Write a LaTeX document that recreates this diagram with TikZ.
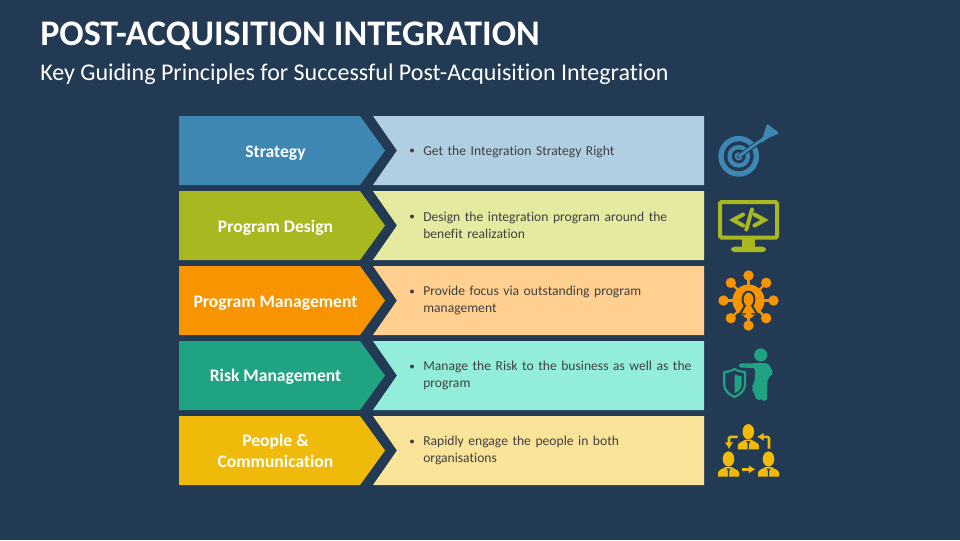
\documentclass[tikz,border=0pt]{standalone}
\usepackage{fontspec}
\usetikzlibrary{arrows.meta}
\setmainfont[Ligatures={NoCommon}]{Carlito}
\definecolor{bg}{HTML}{233A54}
\definecolor{aA}{HTML}{3F87B3}\definecolor{bA}{HTML}{B0CFE2}
\definecolor{aB}{HTML}{A9B720}\definecolor{bB}{HTML}{E5EAA0}
\definecolor{aC}{HTML}{F79400}\definecolor{bC}{HTML}{FFD08F}
\definecolor{aD}{HTML}{1FA383}\definecolor{bD}{HTML}{92EEDA}
\definecolor{aE}{HTML}{F0BA0A}\definecolor{bE}{HTML}{FAE49A}
\definecolor{txt}{HTML}{404040}
\tikzset{
 x=0.75pt,y=-0.75pt,
 lab/.style={text=white,font=\fontsize{13.2pt}{15.8pt}\selectfont\bfseries,align=center,anchor=center},
 desc/.style={text=txt,font=\fontsize{10.2pt}{12.9pt}\selectfont,align=left,anchor=west,text width=215pt,inner sep=0pt},
 dot/.style={circle,fill=txt,inner sep=0pt,minimum size=3pt},
 iconarrow/.style={aE,line width=1.9pt,rounded corners=1pt,-{Latex[length=5pt,width=6.5pt]}},
}
\newcommand{\band}[3]{%
 \fill[#2] (179,#1) -- (360,#1) -- (385,#1+34.5) -- (360,#1+69) -- (179,#1+69) -- cycle;
 \fill[#3] (373,#1) -- (704,#1) -- (704,#1+69) -- (373,#1+69) -- (397,#1+34.5) -- cycle;
}
\newcommand{\person}[2]{%
 \fill[aE] (#1,#2) ellipse (5.8 and 7.6);
 \fill[aE] (#1-10.5,#2+17.7) -- (#1-10.5,#2+13.5) .. controls (#1-10,#2+11) and (#1-6,#2+10) .. (#1-3,#2+8) -- (#1+3,#2+8) .. controls (#1+6,#2+10) and (#1+10,#2+11) .. (#1+10.5,#2+13.5) -- (#1+10.5,#2+17.7) -- cycle;
 \fill[bg] (#1-2,#2+9.5) -- (#1+2,#2+9.5) -- (#1+0.6,#2+12) -- (#1+0.6,#2+17.7) -- (#1-0.6,#2+17.7) -- (#1-0.6,#2+12) -- cycle;
}
\begin{document}
\begin{tikzpicture}
\useasboundingbox (0,0) rectangle (960,540);
\fill[bg] (0,0) rectangle (960,540);
\node[anchor=west,inner sep=0pt,text=white,font=\fontsize{27pt}{30pt}\selectfont\bfseries] (title) at (40,35.5) {POST-ACQUISITION INTEGRATION};
\node[anchor=west,inner sep=0pt,text=white,font=\fontsize{18pt}{21pt}\selectfont] (sub) at (40,74.5) {Key Guiding Principles for Successful Post-Acquisition Integration};
\band{116}{aA}{bA}
\band{191}{aB}{bB}
\band{266}{aC}{bC}
\band{341}{aD}{bD}
\band{416}{aE}{bE}
\node[lab] (l1) at (275.5,153) {Strategy};
\node[lab] (l2) at (275.5,228) {Program Design};
\node[lab] (l3) at (275.5,303) {Program Management};
\node[lab] (l4) at (275.5,377) {Risk Management};
\node[lab] (l5) at (275.5,450.5) {People \&\\Communication};
\node[dot] (d1) at (412,150.5) {}; \node[desc] (t1) at (423,151.5) {Get the Integration Strategy Right};
\node[dot] (d2) at (412,216.5) {}; \node[desc] (t2) at (423,225.3) {Design the integration program around the\\benefit realization};
\node[dot] (d3) at (412,291.5) {}; \node[desc] (t3) at (423,300.8) {Provide focus via outstanding program\\management};
\node[dot] (d4) at (412,366.5) {}; \node[desc] (t4) at (423,375.8) {Manage the Risk to the business as well as the\\program};
\node[dot] (d5) at (412,441.5) {}; \node[desc] (t5) at (423,450.8) {Rapidly engage the people in both\\organisations};
% target
\draw[aA,line width=4pt] (738.7,156.3) circle (17.7);
\draw[aA,line width=3.2pt] (738.7,156.3) circle (9.2);
\draw[aA,line width=1.3pt] (738.7,156.3) circle (3.2);
\draw[bg,line width=3.6pt] (740,155.4) -- (762,140);
\draw[aA,line width=2.2pt,line cap=round] (738.7,156.3) -- (765,137.5);
\fill[aA,rounded corners=1.5pt] (767,123.5) -- (779.5,133.3) -- (768,138) -- (761,143.5) -- cycle;
% monitor
\draw[aB,line width=3pt,rounded corners=1pt] (720,202) rectangle (777,237.5);
\fill[aB] (741.7,238) rectangle (755,248);
\fill[aB,rounded corners=2.5pt] (731,246.7) rectangle (766,252);
\draw[aB,line width=3pt,line cap=round,line join=miter] (743,214.5) -- (733,220) -- (743,225.5);
\draw[aB,line width=3pt,line cap=round,line join=miter] (754.5,214.5) -- (764.5,220) -- (754.5,225.5);
\draw[aB,line width=3pt,line cap=round] (752,209.5) -- (746.3,229.5);
% network
\foreach \a in {0,45,...,315}{
 \draw[aC,line width=1.6pt] (748.5,300.5) -- ++({\a}:25);
 \fill[aC] (748.5,300.5) ++({\a}:25) circle (5.2);
}
\fill[aC] (748.5,300.5) circle (16);
\fill[bg] (748.5,299.5) ellipse (7 and 9);
\fill[bg] (738.5,314.5) .. controls (741,310) and (743,307) .. (745,304) -- (752,304) .. controls (754,307) and (756,310) .. (758.5,314.5) -- cycle;
\fill[aC] (748.5,299.5) ellipse (4.8 and 6.8);
\fill[aC] (742,313) .. controls (743,310) and (745,309) .. (746,306) -- (751,306) .. controls (752,309) and (754,310) .. (755,313) -- cycle;
\fill[aC] (748.5,309) -- (753,317) -- (748.5,319) -- (744,317) -- cycle;
% shield and person
\fill[aD] (760.7,355) circle (6.6);
\draw[aD,line width=1.6pt,line join=round] (734.5,369) .. controls (730,371.5) and (727,372) .. (724.2,372) -- (724.2,385) .. controls (724.2,391) and (730,395) .. (734.5,397) .. controls (739,395) and (745,391) .. (745,385) -- (745,372) .. controls (742,372) and (739,371.5) .. (734.5,369) -- cycle;
\fill[aD] (734.5,374.5) -- (738,375.5) -- (741.5,376) -- (741.5,385) .. controls (741.5,389) and (738,392) .. (734.5,393) -- cycle;
\fill[aD,rounded corners=1.5pt] (739,363.5) -- (768,363) -- (773.5,373) -- (767.5,379) -- (767,400.5) -- (761,400.5) -- (760,386) -- (762,399.5) -- (757,400.5) -- (751.5,388) -- (755,380) -- (755,368) -- (739,367.5) -- cycle;
% people
\person{748.3}{431.7}
\person{728.5}{459}
\person{768.5}{459}
\coordinate (pa) at (742.3,469.3);
\coordinate (pb) at (755.5,469.3);
\draw[iconarrow] (pa) -- (pb);
\draw[iconarrow] (737.7,436.8) -- (729,436.8) -- (729,449);
\draw[iconarrow] (769,448.5) -- (769,436.8) -- (757,436.8);
\end{tikzpicture}
\end{document}
